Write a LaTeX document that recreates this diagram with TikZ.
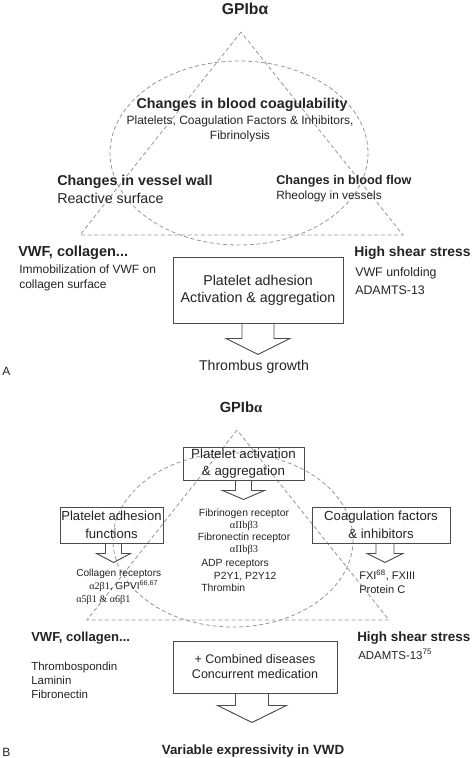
\documentclass[tikz,border=0pt]{standalone}
\usepackage{fontspec}
\usepackage{amsmath}
\setmainfont{Liberation Sans}
\newfontfamily\grserif{Liberation Serif}
\usetikzlibrary{calc}

\definecolor{txtc}{RGB}{35,35,35}
\definecolor{boxc}{RGB}{75,75,75}
\definecolor{dashc}{RGB}{150,150,150}

\tikzset{
  dashline/.style={draw=dashc, line width=0.6pt, dash pattern=on 3pt off 2pt},
  flowbox/.style={draw=boxc, line width=0.7pt, align=center, inner sep=0pt, text=txtc},
  blockarrow/.style={draw=boxc, line width=0.7pt},
  lbl/.style={inner sep=0.75pt, text=txtc},
}

\begin{document}
\begin{tikzpicture}[x=0.75pt,y=0.75pt,yscale=-1,xscale=1]
\useasboundingbox (0,0) rectangle (474,758);

%%%%%%%%%% panel A

%Shape: Triangle
\draw [dashline] (241,32) -- (80,235) -- (403,235) -- cycle ;
%Shape: Ellipse
\draw [dashline] (239,153) ellipse [x radius=129, y radius=92] ;

% Text Node
\node [lbl, font=\bfseries\fontsize{11.8}{14}\selectfont] (gpA) at (245,9) {GPIbα};
% Text Node
\node [lbl, font=\bfseries\fontsize{10.7}{12.8}\selectfont] (coaghead) at (242,105) {Changes in blood coagulability};
% Text Node
\node [lbl, align=center, font=\fontsize{9}{11.25}\selectfont] (coagtext) at (240,128.5) {Platelets, Coagulation Factors \& Inhibitors,\\Fibrinolysis};
% Text Node
\node [lbl, anchor=west, font=\bfseries\fontsize{10.7}{12.8}\selectfont] (wallhead) at (56,182) {Changes in vessel wall};
% Text Node
\node [lbl, anchor=west, font=\fontsize{10.7}{12.8}\selectfont] (walltext) at (56,198) {Reactive surface};
% Text Node
\node [lbl, anchor=west, font=\bfseries\fontsize{9.5}{11.4}\selectfont] (flowhead) at (275,181) {Changes in blood flow};
% Text Node
\node [lbl, anchor=west, font=\fontsize{8.9}{10.7}\selectfont] (flowtext) at (275,196) {Rheology in vessels};
% Text Node
\node [lbl, anchor=west, font=\bfseries\fontsize{10.9}{13}\selectfont] (vwfA) at (17,253) {VWF, collagen...};
% Text Node
\node [lbl, anchor=west, align=left, font=\fontsize{9}{11.25}\selectfont] (vwfAtext) at (18,277.5) {Immobilization of VWF on\\collagen surface};
% Text Node
\node [lbl, anchor=west, font=\bfseries\fontsize{10.4}{12.5}\selectfont] (shearA) at (353,253) {High shear stress};
% Text Node
\node [lbl, anchor=west, align=left, font=\fontsize{9.3}{13.5}\selectfont] (shearAtext) at (354,281) {VWF unfolding\\ADAMTS-13};

%Shape: Rectangle
\node [flowbox, minimum width=127.5pt, minimum height=49.5pt, font=\fontsize{10.7}{12.75}\selectfont] (boxA) at (258,290) {Platelet adhesion\\Activation \& aggregation};
%Shape: Block arrow
\draw [blockarrow] ($(boxA.south)+(-16,0)$) -- ++(0,15) -- ++(-16,0) -- ++(32,16) -- ++(32,-16) -- ++(-16,0) -- ++(0,-15) ;

% Text Node
\node [lbl, font=\fontsize{10.6}{12.7}\selectfont] (thrombus) at (254,367) {Thrombus growth};
% Text Node
\node [lbl, anchor=west, font=\fontsize{9}{11}\selectfont] (labA) at (1,371) {A};

%%%%%%%%%% panel B

%Shape: Triangle
\draw [dashline] (237,430) -- (87,620) -- (389,620) -- cycle ;
%Shape: Ellipse
\draw [dashline] (233,540) ellipse [x radius=120, y radius=87] ;

% Text Node
\node [lbl, font=\bfseries\fontsize{11}{13}\selectfont] (gpB) at (241,407) {GPIb{\grserif α}};

%Shape: Rectangle
\node [flowbox, minimum width=90.75pt, minimum height=24.75pt, font=\fontsize{10}{12.75}\selectfont] (actbox) at (243.5,463.5) {Platelet activation\\\& aggregation};
%Shape: Block arrow
\draw [blockarrow] ($(actbox.south)+(-8,0)$) -- ++(0,10) -- ++(-13,0) -- ++(21,9) -- ++(21,-9) -- ++(-13,0) -- ++(0,-10) ;

%Shape: Rectangle
\node [flowbox, minimum width=77.25pt, minimum height=27pt, font=\fontsize{9.8}{13.5}\selectfont] (adhbox) at (111.5,525) {Platelet adhesion\\functions};
%Shape: Block arrow
\draw [blockarrow] ($(adhbox.south)+(-6,0)$) -- ++(0,10) -- ++(-9,0) -- ++(17,9) -- ++(17,-9) -- ++(-9,0) -- ++(0,-10) ;

%Shape: Rectangle
\node [flowbox, minimum width=103.5pt, minimum height=27pt, font=\fontsize{9.9}{13.5}\selectfont] (coagbox) at (381,525) {Coagulation factors\\\& inhibitors};
%Shape: Block arrow
\draw [blockarrow] ($(coagbox.south)+(-5,0)$) -- ++(0,10) -- ++(-9,0) -- ++(18,9) -- ++(18,-9) -- ++(-9,0) -- ++(0,-10) ;

% Text Node
\node [lbl, align=center, font=\fontsize{7.8}{9.1}\selectfont] (recA) at (244,532) {Fibrinogen receptor\\{\grserif αIIbβ3}\\Fibronectin receptor\\{\grserif αIIbβ3}};
% Text Node
\node [lbl, anchor=west, align=left, font=\fontsize{7.8}{9.1}\selectfont] (recB) at (200,575.5) {ADP receptors\\\hspace*{9.5pt}P2Y1, P2Y12\\Thrombin};
% Text Node
\node [lbl, anchor=west, align=left, font=\fontsize{7.6}{9.75}\selectfont] (colltext) at (75,587) {Collagen receptors\\\hspace*{9.75pt}{\grserif α2β1}, GPVI\textsuperscript{66,67}\\{\grserif α5β1 \& α6β1}};
% Text Node
\node [lbl, anchor=west, align=left, font=\fontsize{8.3}{10.5}\selectfont] (fxtext) at (358,582) {FXI\textsuperscript{68}, FXIII\\Protein C};

% Text Node
\node [lbl, anchor=west, font=\bfseries\fontsize{9.8}{11.8}\selectfont] (vwfB) at (30,638) {VWF, collagen...};
% Text Node
\node [lbl, anchor=west, align=left, font=\fontsize{8.6}{10.5}\selectfont] (vwfBtext) at (30,680) {Thrombospondin\\Laminin\\Fibronectin};
% Text Node
\node [lbl, anchor=west, font=\bfseries\fontsize{10.1}{12.2}\selectfont] (shearB) at (356,638) {High shear stress};
% Text Node
\node [lbl, anchor=west, font=\fontsize{8.6}{10.3}\selectfont] (shearBtext) at (357,654) {ADAMTS-13\textsuperscript{75}};

%Shape: Rectangle
\node [flowbox, minimum width=123pt, minimum height=39pt, font=\fontsize{9.4}{11.25}\selectfont] (boxB) at (255,667) {+ Combined diseases\\Concurrent medication};
%Shape: Block arrow
\draw [blockarrow] ($(boxB.south)+(-19.5,0)$) -- ++(0,12) -- ++(-18,0) -- ++(34.5,17) -- ++(34.5,-17) -- ++(-18,0) -- ++(0,-12) ;

% Text Node
\node [lbl, font=\bfseries\fontsize{10}{12}\selectfont] (varexp) at (253,751) {Variable expressivity in VWD};
% Text Node
\node [lbl, anchor=west, font=\fontsize{9}{11}\selectfont] (labB) at (1,752) {B};

\end{tikzpicture}
\end{document}
